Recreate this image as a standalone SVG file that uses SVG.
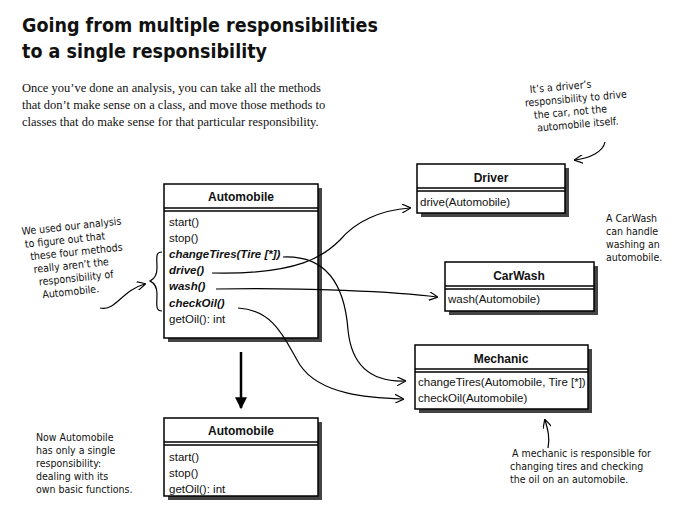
<svg xmlns="http://www.w3.org/2000/svg" width="676" height="531" viewBox="0 0 676 531">
<defs>
<marker id="ah" viewBox="0 0 10 10" refX="9" refY="5" markerWidth="9" markerHeight="9" orient="auto" markerUnits="userSpaceOnUse"><path d="M0,0 L10,5 L0,10" fill="none" stroke="#000" stroke-width="1.3"/></marker>
<marker id="fh" viewBox="0 0 10 10" refX="9" refY="5" markerWidth="12" markerHeight="12" orient="auto" markerUnits="userSpaceOnUse"><path d="M0,0 L10,5 L0,10 z" fill="#000"/></marker>
</defs>
<style>
.box{fill:#fff;stroke:#000;stroke-width:1.5}
.sh{fill:#444}
.t{font-family:"Liberation Sans",Arial,sans-serif;font-size:11.5px;fill:#111}
.h{font-family:"Liberation Sans",Arial,sans-serif;font-size:12px;font-weight:bold;fill:#111;text-anchor:middle}
.bi{font-weight:bold;font-style:italic}
.n{font-family:"DejaVu Sans Condensed","DejaVu Sans",sans-serif;font-size:10.5px;fill:#111}
.c{fill:none;stroke:#000;stroke-width:1.2}
.body{font-family:"Liberation Serif",serif;font-size:12.5px;fill:#111}
</style>
<rect width="676" height="531" fill="#fff"/>
<text x="22" y="32" font-family="DejaVu Sans Condensed,DejaVu Sans,sans-serif" font-weight="bold" font-size="19.5" fill="#111">Going from multiple responsibilities</text>
<text x="22" y="58" font-family="DejaVu Sans Condensed,DejaVu Sans,sans-serif" font-weight="bold" font-size="19.5" fill="#111">to a single responsibility</text>
<text class="body" x="22" y="92">Once you’ve done an analysis, you can take all the methods</text>
<text class="body" x="22" y="109">that don’t make sense on a class, and move those methods to</text>
<text class="body" x="22" y="126">classes that do make sense for that particular responsibility.</text>

<g id="automobile1">
<rect class="sh" x="168" y="188" width="154" height="154"/>
<rect class="box" x="164" y="184" width="154" height="154"/>
<line x1="164" y1="208" x2="318" y2="208" stroke="#000" stroke-width="1.5"/><line x1="164" y1="211" x2="318" y2="211" stroke="#000" stroke-width="1.5"/>
<text class="h" x="241" y="201">Automobile</text>
<text class="t" x="169" y="226">start()</text>
<text class="t" x="169" y="242">stop()</text>
<text class="t bi" x="169" y="258">changeTires(Tire [*])</text>
<text class="t bi" x="169" y="274">drive()</text>
<text class="t bi" x="169" y="290">wash()</text>
<text class="t bi" x="169" y="307">checkOil()</text>
<text class="t" x="169" y="323">getOil(): int</text>
</g>
<g id="driver">
<rect class="sh" x="421" y="168" width="148" height="49"/>
<rect class="box" x="417" y="164" width="148" height="49"/>
<line x1="417" y1="188" x2="565" y2="188" stroke="#000" stroke-width="1.5"/><line x1="417" y1="191" x2="565" y2="191" stroke="#000" stroke-width="1.5"/>
<text class="h" x="491" y="182">Driver</text>
<text class="t" x="420" y="206">drive(Automobile)</text>
</g>
<g id="carwash">
<rect class="sh" x="449" y="266" width="149" height="49"/>
<rect class="box" x="445" y="262" width="149" height="49"/>
<line x1="445" y1="286" x2="594" y2="286" stroke="#000" stroke-width="1.5"/><line x1="445" y1="289" x2="594" y2="289" stroke="#000" stroke-width="1.5"/>
<text class="h" x="519" y="280">CarWash</text>
<text class="t" x="448" y="303">wash(Automobile)</text>
</g>
<g id="mechanic">
<rect class="sh" x="419" y="349" width="173" height="64"/>
<rect class="box" x="415" y="345" width="173" height="64"/>
<line x1="415" y1="369" x2="588" y2="369" stroke="#000" stroke-width="1.5"/><line x1="415" y1="372" x2="588" y2="372" stroke="#000" stroke-width="1.5"/>
<text class="h" x="501" y="363">Mechanic</text>
<text class="t" x="418" y="386">changeTires(Automobile, Tire [*])</text>
<text class="t" x="418" y="402">checkOil(Automobile)</text>
</g>
<g id="automobile2">
<rect class="sh" x="168" y="422" width="154" height="78"/>
<rect class="box" x="164" y="418" width="154" height="78"/>
<line x1="164" y1="442" x2="318" y2="442" stroke="#000" stroke-width="1.5"/><line x1="164" y1="445" x2="318" y2="445" stroke="#000" stroke-width="1.5"/>
<text class="h" x="241" y="435">Automobile</text>
<text class="t" x="169" y="461">start()</text>
<text class="t" x="169" y="477">stop()</text>
<text class="t" x="169" y="493">getOil(): int</text>
</g>
<g id="connectors">
<path class="c" marker-end="url(#ah)" d="M283,257 C330,255 345,290 348,330 C352,370 375,382 405,381"/>
<path class="c" marker-end="url(#ah)" d="M212,273 C300,275 325,255 340,240 C355,222 380,210 410,208"/>
<path class="c" marker-end="url(#ah)" d="M216,289 C300,287 400,292 437,297"/>
<path class="c" marker-end="url(#ah)" d="M238,308 C275,310 285,340 300,365 C320,395 370,398 403,399"/>
<path d="M241,352 L241,408" stroke="#000" stroke-width="2.5" marker-end="url(#fh)"/>
<path class="c" d="M162,252 C155,252 157,258 157,268 C157,278 152,280 150,281 C152,282 157,284 157,294 C157,304 155,311 162,311"/>
<path class="c" marker-end="url(#ah)" d="M100,308 C115,312 122,290 145,284"/>
<path class="c" marker-end="url(#ah)" d="M605,142 C603,152 590,158 575,160"/>
<path class="c" marker-end="url(#ah)" d="M548,448 C550,438 548,430 545,420"/>
</g>
<g id="notes">
<text class="n" transform="rotate(-6 22 235)"><tspan x="22" y="235">We used our analysis</tspan><tspan x="24" y="248">to figure out that</tspan><tspan x="28" y="261">these four methods</tspan><tspan x="30" y="274">really aren’t the</tspan><tspan x="34" y="287">responsibility of</tspan><tspan x="36" y="300">Automobile.</tspan></text>
<text class="n" transform="rotate(-5 530 93)"><tspan x="530" y="93">It’s a driver’s</tspan><tspan x="524" y="106">responsibility to drive</tspan><tspan x="532" y="119">the car, not the</tspan><tspan x="534" y="132">automobile itself.</tspan></text>
<text class="n"><tspan x="606" y="222">A CarWash</tspan><tspan x="606" y="235">can handle</tspan><tspan x="606" y="248">washing an</tspan><tspan x="606" y="261">automobile.</tspan></text>
<text class="n"><tspan x="512" y="457">A mechanic is responsible for</tspan><tspan x="510" y="470">changing tires and checking</tspan><tspan x="510" y="483">the oil on an automobile.</tspan></text>
<text class="n"><tspan x="36" y="441">Now Automobile</tspan><tspan x="36" y="454">has only a single</tspan><tspan x="36" y="467">responsibility:</tspan><tspan x="36" y="480">dealing with its</tspan><tspan x="36" y="493">own basic functions.</tspan></text>
</g>
</svg>
